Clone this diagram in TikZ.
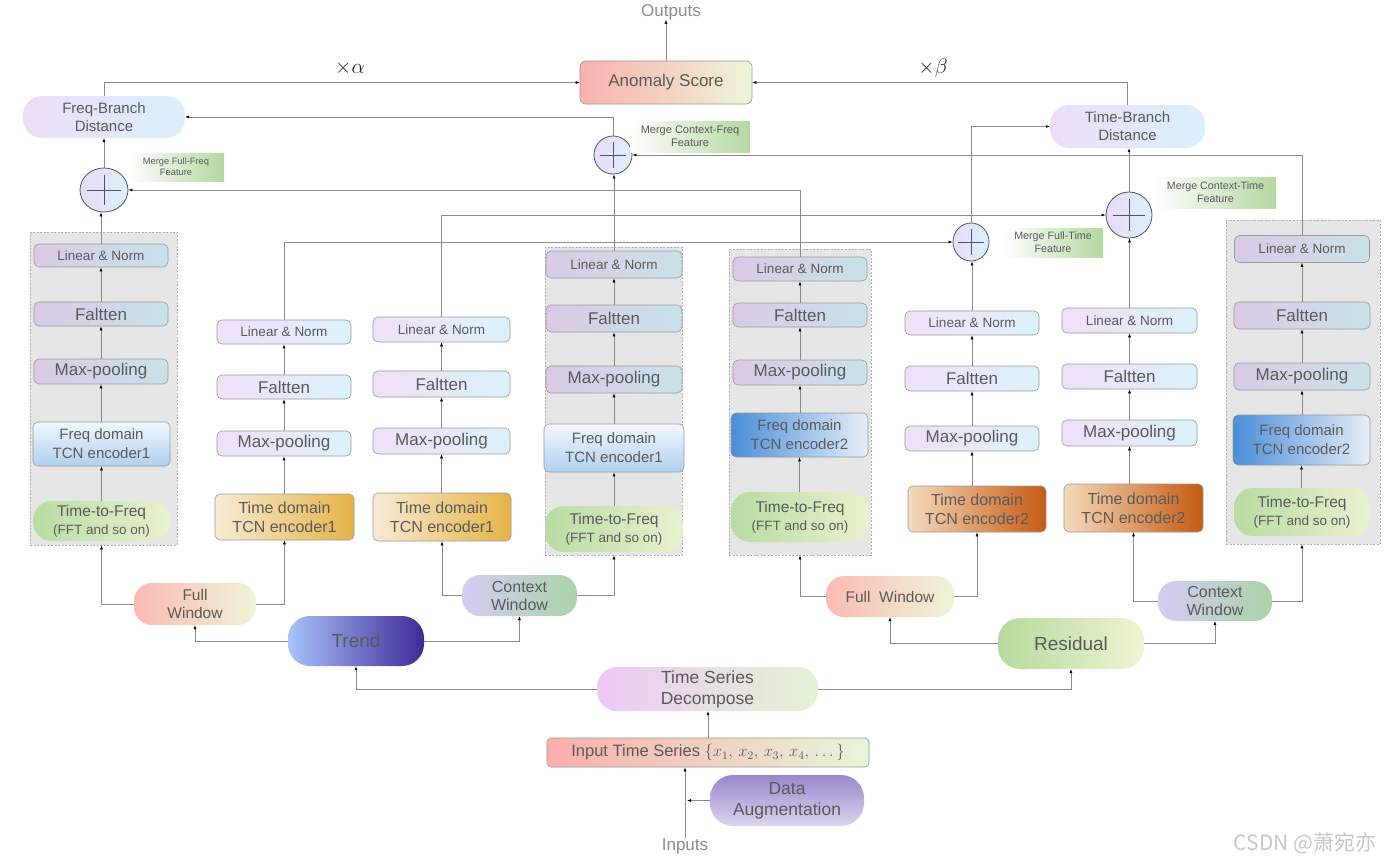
\RequirePackage{fix-cm}
\documentclass[tikz,border=0pt]{standalone}
\usepackage{fontspec}
\setmainfont{Liberation Sans}
\newfontfamily\cjkfont{Noto Sans CJK SC}
\usetikzlibrary{arrows.meta,shapes.geometric,calc}
\newcommand\fnt[2]{\fontsize{#1}{#2}\selectfont}
\definecolor{txt}{HTML}{5A5A5A}
\definecolor{lnc}{HTML}{8A8A8A}
\definecolor{bord}{HTML}{9A9A9A}
\definecolor{frl}{HTML}{DBC9E5}
\definecolor{frr}{HTML}{C8E3EA}
\definecolor{tml}{HTML}{F1E0FA}
\definecolor{tmr}{HTML}{DCF2FB}
\definecolor{feat}{HTML}{F2F7FD}
\definecolor{feab}{HTML}{B0D0EF}
\definecolor{febl}{HTML}{4A8ED8}
\definecolor{febr}{HTML}{E6EEF9}
\definecolor{teal}{HTML}{F8EBD4}
\definecolor{tear}{HTML}{E5B347}
\definecolor{tebl}{HTML}{F5DABB}
\definecolor{tebr}{HTML}{C55A12}
\definecolor{ttfl}{HTML}{B8DCA2}
\definecolor{ttfr}{HTML}{E9F1CF}
\definecolor{mrgl}{HTML}{E8DCF6}
\definecolor{mrgr}{HTML}{DDEFFA}
\definecolor{mrgb}{HTML}{4A5670}
\definecolor{lblr}{HTML}{B3D8A0}
\definecolor{dstl}{HTML}{EEDDF7}
\definecolor{dstr}{HTML}{D8F0FB}
\definecolor{asl}{HTML}{F9B1AE}
\definecolor{asr}{HTML}{EEF5D8}
\definecolor{fwl}{HTML}{FBBBB3}
\definecolor{fwr}{HTML}{EEF4D6}
\definecolor{cwl}{HTML}{D6CCF6}
\definecolor{cwm}{HTML}{A6C3F3}
\definecolor{cwr}{HTML}{A9D3A6}
\definecolor{trl}{HTML}{A9C2F9}
\definecolor{trr}{HTML}{3D2A97}
\definecolor{rsl}{HTML}{B6DA9C}
\definecolor{rsr}{HTML}{EEF4D4}
\definecolor{tsdl}{HTML}{EEC9F6}
\definecolor{tsdr}{HTML}{E3F2D3}
\definecolor{itsl}{HTML}{FBAEAB}
\definecolor{itsm}{HTML}{F7E2CB}
\definecolor{itsr}{HTML}{E6F5DA}
\definecolor{dat}{HTML}{9A86CB}
\definecolor{dab}{HTML}{DDD5EF}
\definecolor{framefill}{HTML}{E6E6E6}
\definecolor{framed}{HTML}{B0B0B0}
\definecolor{lightt}{HTML}{8C8C8C}
\tikzset{
  every node/.style={text=txt, inner sep=0pt, align=center},
  arr/.style={draw=lnc, line width=0.6pt, -{Latex[length=4pt,width=3pt,color=black]}},
  grayframe/.style={draw=framed, fill=framefill, dash pattern=on 2pt off 1.5pt, line width=0.6pt},
  layer/.style={draw=bord, line width=0.6pt, rounded corners=5pt, minimum width=134, minimum height=24, font=\fnt{13.5}{16}},
  flay/.style={layer, left color=frl, right color=frr},
  tlay/.style={layer, left color=tml, right color=tmr},
  big/.style={font=\fnt{17}{20}},
  fencA/.style={layer, top color=feat, bottom color=feab, font=\fnt{15}{19}},
  fencB/.style={layer, left color=febl, right color=febr, font=\fnt{15}{19}},
  tencA/.style={layer, left color=teal, right color=tear, font=\fnt{16}{19}},
  tencB/.style={layer, left color=tebl, right color=tebr, font=\fnt{16}{19}},
  ttf/.style={rounded corners=19pt, left color=ttfl, right color=ttfr, font=\fnt{15.5}{18}},
  merge/.style={ellipse, draw=mrgb, line width=0.8pt, left color=mrgl, right color=mrgr,
    path picture={\draw[draw=mrgb, line width=0.8pt]
      ($(path picture bounding box.west)!0.15!(path picture bounding box.east)$) --
      ($(path picture bounding box.west)!0.85!(path picture bounding box.east)$)
      ($(path picture bounding box.north)!0.15!(path picture bounding box.south)$) --
      ($(path picture bounding box.north)!0.85!(path picture bounding box.south)$);}},
  mlabel/.style={left color=white, right color=lblr},
  dist/.style={rounded corners=19pt, left color=dstl, right color=dstr, font=\fnt{15}{18}},
  pill/.style={rounded corners=18pt},
}
\newcommand\upar[2]{\draw[arr] (#2.south |- #1.north) -- (#2.south);}
\begin{document}
\begin{tikzpicture}[x=1pt,y=-1pt]
\useasboundingbox[fill=white] (0,0) rectangle (1398,867);
% gray frames
\node[grayframe, minimum width=147, minimum height=313] (g1) at (103.5,388.5) {};
\node[grayframe, minimum width=137, minimum height=308] (g4) at (613.5,401) {};
\node[grayframe, minimum width=142, minimum height=306] (g5) at (800,402) {};
\node[grayframe, minimum width=154, minimum height=324] (g8) at (1303,382) {};
% column 1
\node[flay, minimum height=23] (c1ln) at (101,255.5) {Linear \& Norm};
\node[flay, big] (c1fl) at (101,314) {Faltten};
\node[flay, big, minimum height=25] (c1mp) at (101,371.5) {Max-pooling};
\node[fencA, minimum width=137, minimum height=44] (c1enc) at (101.5,444) {Freq domain\\TCN encoder1};
\node[ttf, minimum width=137, minimum height=40] (c1ttf) at (101.5,521) {Time-to-Freq\\{\fnt{13.5}{16}(FFT and so on)}};
% column 2
\node[tlay] (c2ln) at (284,332) {Linear \& Norm};
\node[tlay, big] (c2fl) at (284,387) {Faltten};
\node[tlay, big, minimum height=25] (c2mp) at (284,443.5) {Max-pooling};
\node[tencA, minimum width=139, minimum height=46] (c2enc) at (284.5,517) {Time domain\\TCN encoder1};
% column 3
\node[tlay, minimum width=137, minimum height=25] (c3ln) at (441.5,329.5) {Linear \& Norm};
\node[tlay, big, minimum width=137, minimum height=26] (c3fl) at (441.5,384) {Faltten};
\node[tlay, big, minimum width=137, minimum height=26] (c3mp) at (441.5,441) {Max-pooling};
\node[tencA, minimum width=138, minimum height=48] (c3enc) at (442,517) {Time domain\\TCN encoder1};
% column 4
\node[flay, minimum width=136, minimum height=27] (c4ln) at (614,264.5) {Linear \& Norm};
\node[flay, big, minimum width=136, minimum height=27] (c4fl) at (614,318.5) {Faltten};
\node[flay, big, minimum width=136, minimum height=27] (c4mp) at (614,379.5) {Max-pooling};
\node[fencA, minimum width=140, minimum height=48] (c4enc) at (614,448) {Freq domain\\TCN encoder1};
\node[ttf, minimum width=138, minimum height=46] (c4ttf) at (614,529) {Time-to-Freq\\{\fnt{13.5}{16}(FFT and so on)}};
% column 5
\node[flay] (c5ln) at (800,269) {Linear \& Norm};
\node[flay, big] (c5fl) at (800,315) {Faltten};
\node[flay, big, minimum height=25] (c5mp) at (800,372.5) {Max-pooling};
\node[fencB, minimum width=137, minimum height=44] (c5enc) at (799.5,435) {Freq domain\\TCN encoder2};
\node[ttf, minimum width=138, minimum height=50] (c5ttf) at (800,517) {Time-to-Freq\\{\fnt{13.5}{16}(FFT and so on)}};
% column 6
\node[tlay] (c6ln) at (972,323) {Linear \& Norm};
\node[tlay, big, minimum height=25] (c6fl) at (972,378.5) {Faltten};
\node[tlay, big, minimum height=25] (c6mp) at (972,438.5) {Max-pooling};
\node[tencB, minimum width=138, minimum height=46] (c6enc) at (977,509) {Time domain\\TCN encoder2};
% column 7
\node[tlay, minimum width=135, minimum height=25] (c7ln) at (1129.5,320.5) {Linear \& Norm};
\node[tlay, big, minimum width=135, minimum height=25] (c7fl) at (1129.5,376.5) {Faltten};
\node[tlay, big, minimum width=135, minimum height=26] (c7mp) at (1129.5,433) {Max-pooling};
\node[tencB, minimum width=139, minimum height=48] (c7enc) at (1133.5,508) {Time domain\\TCN encoder2};
% column 8
\node[flay, minimum width=135, minimum height=27] (c8ln) at (1302,249) {Linear \& Norm};
\node[flay, big, minimum width=136, minimum height=27] (c8fl) at (1302,315.5) {Faltten};
\node[flay, big, minimum width=136, minimum height=27] (c8mp) at (1302,376.5) {Max-pooling};
\node[fencB, minimum width=137, minimum height=50] (c8enc) at (1301.5,440) {Freq domain\\TCN encoder2};
\node[ttf, minimum width=136, minimum height=48] (c8ttf) at (1302,512) {Time-to-Freq\\{\fnt{13.5}{16}(FFT and so on)}};
% merges
\node[merge, minimum width=48, minimum height=44] (mFF) at (104,190) {};
\node[merge, minimum width=38, minimum height=38] (mCF) at (613,155) {};
\node[merge, minimum width=36, minimum height=38] (mFT) at (971,242) {};
\node[merge, minimum width=46, minimum height=46] (mCT) at (1129,215) {};
\node[mlabel, minimum width=96, minimum height=28, font=\fnt{9.3}{11}] (lFF) at (176,167) {Merge Full-Freq\\Feature};
\node[mlabel, minimum width=120, minimum height=31, font=\fnt{11}{13}] (lCF) at (690,136.5) {Merge Context-Freq\\Feature};
\node[mlabel, minimum width=100, minimum height=29, font=\fnt{10.7}{13}] (lFT) at (1053,242.5) {Merge Full-Time\\Feature};
\node[mlabel, minimum width=121, minimum height=31, font=\fnt{10.7}{13}] (lCT) at (1215.5,192.5) {Merge Context-Time\\Feature};
% distances and score
\node[dist, minimum width=162, minimum height=42] (fbd) at (104,117) {Freq-Branch\\Distance};
\node[dist, minimum width=155, minimum height=43] (tbd) at (1127.5,126.5) {Time-Branch\\Distance};
\node[draw=bord, line width=0.6pt, rounded corners=6pt, left color=asl, right color=asr, minimum width=172, minimum height=43, font=\fnt{17}{20}] (as) at (666,82.5) {Anomaly Score};
\node[text=lightt, font=\fnt{17}{20}] (out) at (671,12) {Outputs};
\node[text=black!85, font=\fnt{21}{24}] (alpha) at (350,68) {$\times\alpha$};
\node[text=black!85, font=\fnt{21}{24}] (beta) at (933,68) {$\times\beta$};
% bottom
\node[pill, left color=fwl, right color=fwr, minimum width=122, minimum height=42, font=\fnt{15.5}{18}] (fwT) at (195,604) {Full\\Window};
\node[pill, left color=cwl, middle color=cwm, right color=cwr, minimum width=115, minimum height=41, font=\fnt{16}{18}] (cwT) at (519.5,595.5) {Context\\Window};
\node[pill, rounded corners=22pt, left color=trl, right color=trr, minimum width=136, minimum height=50, font=\fnt{19}{22}] (trend) at (356,641) {Trend};
\node[pill, left color=fwl, right color=fwr, minimum width=128, minimum height=41, font=\fnt{15.5}{18}] (fwR) at (890,596.5) {Full~~Window};
\node[pill, left color=cwl, middle color=cwm, right color=cwr, minimum width=114, minimum height=40, font=\fnt{16}{18}] (cwR) at (1215,601) {Context\\Window};
\node[pill, rounded corners=22pt, left color=rsl, right color=rsr, minimum width=146, minimum height=51, font=\fnt{19}{22}] (resid) at (1071,643.5) {Residual};
\node[pill, rounded corners=20pt, left color=tsdl, right color=tsdr, minimum width=221, minimum height=44, font=\fnt{17.5}{21}] (tsd) at (707.5,689) {Time Series\\Decompose};
\node[draw=bord, line width=0.6pt, rounded corners=4pt, left color=itsl, middle color=itsm, right color=itsr, minimum width=322, minimum height=29, font=\fnt{16.5}{19}] (its) at (708,752.5) {Input Time Series $\{x_1,\, x_2,\, x_3,\, x_4,\, \ldots\,\}$};
\node[pill, rounded corners=23pt, top color=dat, bottom color=dab, minimum width=154, minimum height=51, font=\fnt{17.5}{21}] (da) at (787,800.5) {Data\\Augmentation};
\node[text=lightt, font=\fnt{17}{20}] (inputs) at (685,846) {Inputs};
\node[text=black!22, font=\cjkfont\fnt{21}{24}] (csdn) at (1305,843) {CSDN @萧宛亦};
% input connectors
\draw[arr] (inputs.north) -- (inputs.north |- its.south);
\draw[arr] (da.west) -- ([xshift=2pt]da.west -| inputs.north);
\draw[arr] (its.north) -- (its.north |- tsd.south);
\draw[arr] (tsd.west) -| (trend.south);
\draw[arr] (tsd.east) -| (resid.south);
\draw[arr] (trend.west) -| (fwT.south);
\draw[arr] (trend.east) -| (cwT.south);
\draw[arr] (resid.west) -| (fwR.south);
\draw[arr] (resid.east) -| (cwR.south);
\draw[arr] (fwT.west) -| (c1ttf.center |- g1.south);
\draw[arr] (fwT.east) -| (c2enc.south);
\draw[arr] (cwT.west) -| (c3enc.south);
\draw[arr] (cwT.east) -| (c4ttf.center |- g4.south);
\draw[arr] (fwR.west) -| (c5ttf.center |- g5.south);
\draw[arr] (fwR.east) -| (c6enc.south);
\draw[arr] (cwR.west) -| (c7enc.south);
\draw[arr] (cwR.east) -| (c8ttf.center |- g8.south);
% column internals
\upar{c1ttf}{c1enc}\upar{c1enc}{c1mp}\upar{c1mp}{c1fl}\upar{c1fl}{c1ln}
\upar{c2enc}{c2mp}\upar{c2mp}{c2fl}\upar{c2fl}{c2ln}
\upar{c3enc}{c3mp}\upar{c3mp}{c3fl}\upar{c3fl}{c3ln}
\upar{c4ttf}{c4enc}\upar{c4enc}{c4mp}\upar{c4mp}{c4fl}\upar{c4fl}{c4ln}
\upar{c5ttf}{c5enc}\upar{c5enc}{c5mp}\upar{c5mp}{c5fl}\upar{c5fl}{c5ln}
\upar{c6enc}{c6mp}\upar{c6mp}{c6fl}\upar{c6fl}{c6ln}
\upar{c7enc}{c7mp}\upar{c7mp}{c7fl}\upar{c7fl}{c7ln}
\upar{c8ttf}{c8enc}\upar{c8enc}{c8mp}\upar{c8mp}{c8fl}\upar{c8fl}{c8ln}
% top connectors
\draw[arr] (c1ln.north) -- (c1ln.north |- mFF.south);
\draw[arr] (c5ln.north) |- (mFF.east);
\draw[arr] (mFF.north) -- (mFF.north |- fbd.south);
\draw[arr] (c4ln.north) -- (c4ln.north |- mCF.south);
\draw[arr] (c8ln.north) |- (mCF.east);
\draw[arr] (mCF.north) |- (fbd.east);
\draw[arr] (fbd.north) |- (as.west);
\draw[arr] (tbd.north) |- (as.east);
\draw[arr] (as.north) -- (as.north |- out.south);
\draw[arr] (c2ln.north) |- (mFT.west);
\draw[arr] (c6ln.north) -- (c6ln.north |- mFT.south);
\draw[arr] (mFT.north) |- (tbd.west);
\draw[arr] (c3ln.north) |- (mCT.west);
\draw[arr] (c7ln.north) -- (c7ln.north |- mCT.south);
\draw[arr] (mCT.north) -- (mCT.north |- tbd.south);
\end{tikzpicture}
\end{document}
